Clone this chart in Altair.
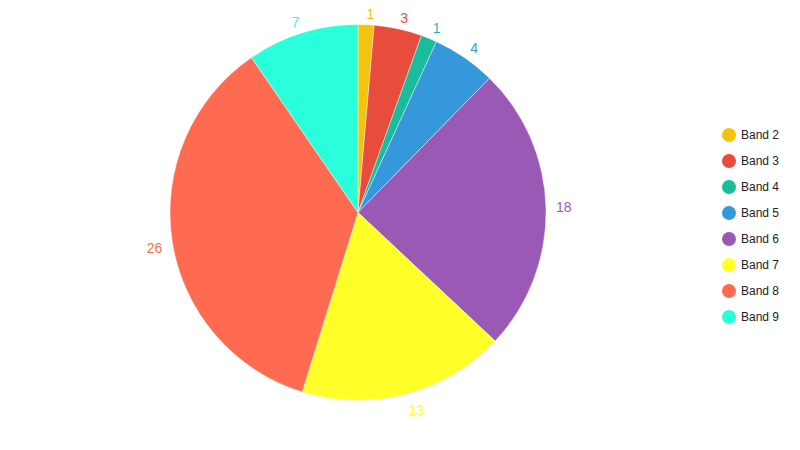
import altair as alt
import pandas as pd

bands = ["Band 2", "Band 3", "Band 4", "Band 5", "Band 6", "Band 7", "Band 8", "Band 9"]
counts = [1, 3, 1, 4, 18, 13, 26, 7]
colors = ["#f1c40f", "#e74c3c", "#1abc9c", "#3498db", "#9b59b6", "#ffff2a", "#ff6b50", "#2affdc"]

total = sum(counts)
df = pd.DataFrame({"band": bands, "count": counts, "idx": list(range(len(bands)))})

cx, cy = 350, 204.5

color_enc = alt.Color(
    "band:N",
    scale=alt.Scale(domain=bands, range=colors),
    legend=alt.Legend(
        title=None,
        orient="none",
        legendX=714,
        legendY=120,
        symbolType="circle",
        symbolSize=196,
        symbolStrokeWidth=0,
        symbolOpacity=1,
        labelFontSize=12,
        labelColor="#222222",
        labelOffset=5,
        rowPadding=12,
        padding=0,
    ),
)
theta_scale = alt.Scale(domain=[0, total])

pie = alt.Chart(df).mark_arc(outerRadius=188, stroke="white", strokeWidth=0.4).encode(
    theta=alt.Theta("count:Q", stack=True, scale=theta_scale),
    order=alt.Order("idx:Q"),
    color=color_enc,
    x=alt.value(cx),
    y=alt.value(cy),
)

lbl_base = (
    alt.Chart(df)
    .transform_window(cum="sum(count)", sort=[alt.SortField("idx")], frame=[None, 0])
    .transform_calculate(mid="datum.cum - datum.count / 2")
    .transform_calculate(frac=f"datum.mid / {total}")
)

layers = [pie]
for align, baseline, cond in [
    ("left", "middle", "datum.frac < 0.25"),
    ("left", "top", "datum.frac >= 0.25 && datum.frac < 0.5"),
    ("right", "top", "datum.frac >= 0.5 && datum.frac < 0.75"),
    ("right", "middle", "datum.frac >= 0.75"),
]:
    layers.append(
        lbl_base.transform_filter(cond)
        .mark_text(radius=198, fontSize=14, align=align, baseline=baseline)
        .encode(
            theta=alt.Theta("mid:Q", stack=None, scale=theta_scale),
            color=color_enc,
            text="count:Q",
            x=alt.value(cx),
            y=alt.value(cy),
        )
    )

chart = (
    alt.layer(*layers)
    .properties(width=784, height=434, padding=0, autosize=alt.AutoSizeParams(type="none"))
    .configure_view(stroke=None)
)

chart.save("out.html", embed_options={"renderer": "svg", "actions": False})
